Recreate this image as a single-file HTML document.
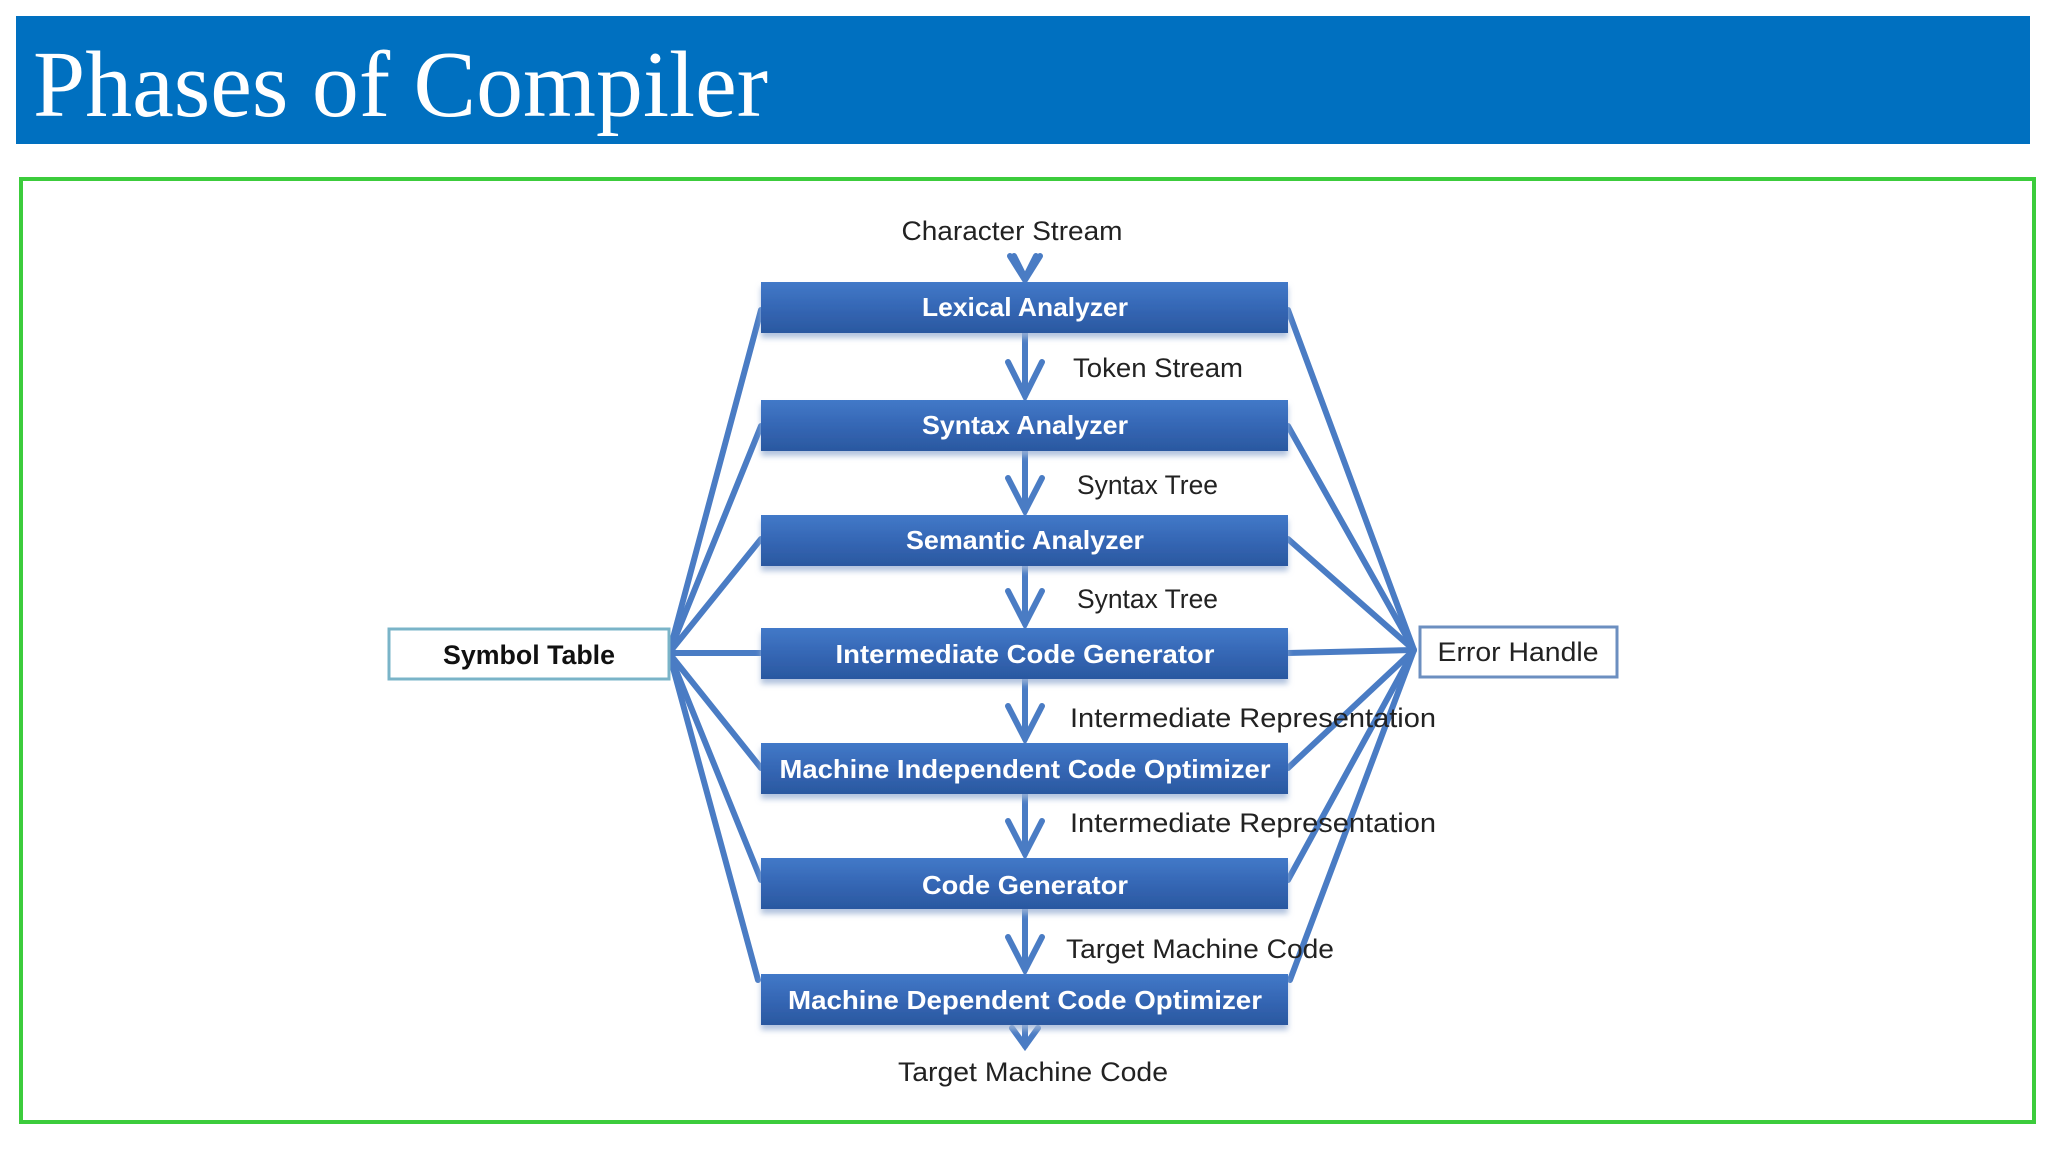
<!DOCTYPE html>
<html><head><meta charset="utf-8"><style>
html,body{margin:0;padding:0;background:#fff;}
body{width:2048px;height:1152px;overflow:hidden;position:relative;}
</style></head><body>
<svg width="2048" height="1152" viewBox="0 0 2048 1152" xmlns="http://www.w3.org/2000/svg">
<defs>
<linearGradient id="g" x1="0" y1="0" x2="0" y2="1">
<stop offset="0" stop-color="#4279c8"/><stop offset="0.5" stop-color="#3567b5"/><stop offset="1" stop-color="#2a58a0"/>
</linearGradient>
<filter id="sh" x="-5%" y="-20%" width="110%" height="160%"><feDropShadow dx="0" dy="5" stdDeviation="3" flood-color="#9fb4d6" flood-opacity="0.8"/></filter>
</defs>
<rect x="16" y="16" width="2014" height="128" fill="#0070c0"/>
<text x="33" y="116" font-family="Liberation Serif, serif" font-size="94" fill="#fff" textLength="735" lengthAdjust="spacingAndGlyphs">Phases of Compiler</text>
<rect x="21" y="179" width="2013" height="943" fill="none" stroke="#3ccc3c" stroke-width="4"/>

<g stroke="#4a7cc4" stroke-width="6" fill="none" stroke-linecap="round">
<line x1="669" y1="653" x2="761" y2="310"/>
<line x1="669" y1="653" x2="761" y2="426"/>
<line x1="669" y1="653" x2="761" y2="539"/>
<line x1="669" y1="653" x2="761" y2="653"/>
<line x1="669" y1="653" x2="761" y2="768"/>
<line x1="669" y1="653" x2="761" y2="880"/>
<line x1="669" y1="653" x2="758" y2="980"/>
<line x1="1414" y1="650" x2="1288" y2="310"/>
<line x1="1414" y1="650" x2="1288" y2="426"/>
<line x1="1414" y1="650" x2="1288" y2="539"/>
<line x1="1414" y1="650" x2="1288" y2="653"/>
<line x1="1414" y1="650" x2="1288" y2="768"/>
<line x1="1414" y1="650" x2="1288" y2="880"/>
<line x1="1414" y1="650" x2="1290" y2="980"/>
<line x1="1025" y1="333" x2="1025" y2="396"/><polyline points="1008,362 1025,396 1042,362"/>
<line x1="1025" y1="451" x2="1025" y2="511"/><polyline points="1008,478 1025,511 1042,478"/>
<line x1="1025" y1="566" x2="1025" y2="624"/><polyline points="1008,591 1025,624 1042,591"/>
<line x1="1025" y1="679" x2="1025" y2="739"/><polyline points="1008,706 1025,739 1042,706"/>
<line x1="1025" y1="794" x2="1025" y2="854"/><polyline points="1008,821 1025,854 1042,821"/>
<line x1="1025" y1="909" x2="1025" y2="970"/><polyline points="1008,937 1025,970 1042,937"/>
<polyline points="1010,256 1025,280 1040,256"/><polyline points="1014,256 1025,278 1036,256"/>
<line x1="1025" y1="1025" x2="1025" y2="1046"/><polyline points="1012,1028 1025,1046 1038,1028"/>
</g>

<g filter="url(#sh)" fill="url(#g)">
<rect x="761" y="282" width="527" height="51"/>
<rect x="761" y="400" width="527" height="51"/>
<rect x="761" y="515" width="527" height="51"/>
<rect x="761" y="628" width="527" height="51"/>
<rect x="761" y="743" width="527" height="51"/>
<rect x="761" y="858" width="527" height="51"/>
<rect x="761" y="974" width="527" height="51"/>
</g>
<g font-family="Liberation Sans, sans-serif" font-weight="bold" font-size="26" fill="#fff" text-anchor="middle" lengthAdjust="spacingAndGlyphs">
<text x="1025" y="316" textLength="206" lengthAdjust="spacingAndGlyphs">Lexical Analyzer</text>
<text x="1025" y="434" textLength="206" lengthAdjust="spacingAndGlyphs">Syntax Analyzer</text>
<text x="1025" y="549" textLength="238" lengthAdjust="spacingAndGlyphs">Semantic Analyzer</text>
<text x="1025" y="663" textLength="379" lengthAdjust="spacingAndGlyphs">Intermediate Code Generator</text>
<text x="1025" y="778" textLength="491" lengthAdjust="spacingAndGlyphs">Machine Independent Code Optimizer</text>
<text x="1025" y="894" textLength="206" lengthAdjust="spacingAndGlyphs">Code Generator</text>
<text x="1025" y="1009" textLength="474" lengthAdjust="spacingAndGlyphs">Machine Dependent Code Optimizer</text>
</g>

<rect x="389" y="629" width="280" height="50" fill="#fff" stroke="#7ab4c8" stroke-width="3"/>
<text x="529" y="664" font-family="Liberation Sans, sans-serif" font-weight="bold" font-size="27" fill="#111" text-anchor="middle" textLength="172" lengthAdjust="spacingAndGlyphs">Symbol Table</text>
<rect x="1420" y="627" width="197" height="50" fill="#fff" stroke="#6c8fc0" stroke-width="3"/>
<text x="1518" y="661" font-family="Liberation Sans, sans-serif" font-size="27" fill="#222" text-anchor="middle" textLength="161" lengthAdjust="spacingAndGlyphs">Error Handle</text>

<g font-family="Liberation Sans, sans-serif" font-size="27" fill="#222">
<text x="1012" y="240" text-anchor="middle" textLength="221" lengthAdjust="spacingAndGlyphs">Character Stream</text>
<text x="1073" y="377" textLength="170" lengthAdjust="spacingAndGlyphs">Token Stream</text>
<text x="1077" y="494" textLength="141" lengthAdjust="spacingAndGlyphs">Syntax Tree</text>
<text x="1077" y="608" textLength="141" lengthAdjust="spacingAndGlyphs">Syntax Tree</text>
<text x="1070" y="727" textLength="366" lengthAdjust="spacingAndGlyphs">Intermediate Representation</text>
<text x="1070" y="832" textLength="366" lengthAdjust="spacingAndGlyphs">Intermediate Representation</text>
<text x="1066" y="958" textLength="268" lengthAdjust="spacingAndGlyphs">Target Machine Code</text>
<text x="1033" y="1081" text-anchor="middle" textLength="270" lengthAdjust="spacingAndGlyphs">Target Machine Code</text>
</g>
</svg>
</body></html>
